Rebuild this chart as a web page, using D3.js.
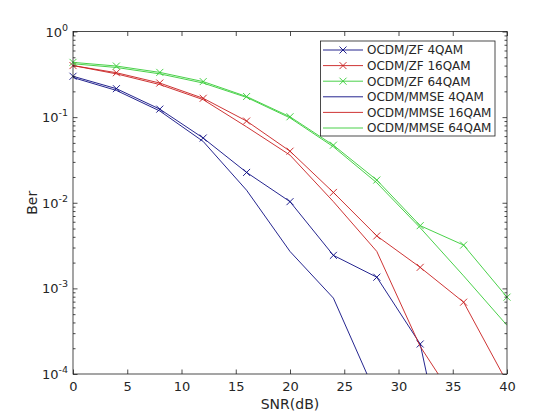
<!DOCTYPE html>
<html>
<head>
<meta charset="utf-8">
<style>
  body { margin: 0; background: #fff; }
  svg { display: block; font-family: "DejaVu Sans", sans-serif; }
</style>
</head>
<body>
<div class="chart"></div>
<script src="https://d3js.org/d3.v7.min.js"></script>
<script>
  // data
  const snr = [0, 4, 8, 12, 16, 20, 24, 28, 32, 36, 40];
  const zf4 = [0.30, 0.215, 0.124, 0.057, 0.0226, 0.0103, 0.00243, 0.00135, 0.000224, 0.000001, null];
  const zf16 = [0.40, 0.33, 0.25, 0.166, 0.09, 0.04, 0.0132, 0.0041, 0.00176, 0.00069, 0.00008];
  const zf64 = [0.436, 0.395, 0.333, 0.26, 0.174, 0.101, 0.047, 0.0184, 0.0054, 0.0032, 0.00079];
  const mmse4 = [0.29, 0.205, 0.118, 0.052, 0.014, 0.0027, 0.00077, 0.000055, null, null, null];
  const mmse16 = [0.40, 0.32, 0.24, 0.16, 0.077, 0.036, 0.0103, 0.0027, 0.00021, 0.000035, null];
  const mmse64 = [0.42, 0.38, 0.32, 0.25, 0.17, 0.098, 0.045, 0.0171, 0.0051, 0.0014, 0.00037];
  const seriesNames = ['OCDM/ZF 4QAM', 'OCDM/ZF 16QAM', 'OCDM/ZF 64QAM', 'OCDM/MMSE 4QAM', 'OCDM/MMSE 16QAM', 'OCDM/MMSE 64QAM'];
  const xTicks = [0, 5, 10, 15, 20, 25, 30, 35, 40];
  const yExps = [0, -1, -2, -3, -4];

  const width = 560, height = 420;
  const mLeft = 73, mRight = 507, mTop = 31.5, mBottom = 374;
  const blue = '#0c0c82', red = '#c81e1e', green = '#35cc35';

  const series = [
    {name: seriesNames[0], vals: zf4, color: blue, marker: true},
    {name: seriesNames[1], vals: zf16, color: red, marker: true},
    {name: seriesNames[2], vals: zf64, color: green, marker: true},
    {name: seriesNames[3], vals: mmse4, color: blue, marker: false},
    {name: seriesNames[4], vals: mmse16, color: red, marker: false},
    {name: seriesNames[5], vals: mmse64, color: green, marker: false}
  ];

  const svg = d3.select('.chart').append('svg')
                .attr('width', width)
                .attr('height', height);

  const x = d3.scaleLinear().domain([0, 40]).range([mLeft, mRight]);
  const y = d3.scaleLog().domain([1e-4, 1]).range([mBottom, mTop]);

  svg.append('clipPath').attr('id', 'plot')
     .append('rect')
     .attr('x', mLeft).attr('y', mTop)
     .attr('width', mRight - mLeft).attr('height', mBottom - mTop);

  // 線
  const line = d3.line()
                 .defined(d => d[1] != null)
                 .x(d => x(d[0]))
                 .y(d => y(d[1]));

  series.forEach(s => {
    const pts = snr.map((v, i) => [v, s.vals[i]]);
    svg.append('path')
       .attr('d', line(pts))
       .attr('fill', 'none')
       .attr('stroke', s.color)
       .attr('stroke-width', 0.9)
       .attr('clip-path', 'url(#plot)');
    if (s.marker) {
      svg.append('g').selectAll('path')
         .data(pts.filter(d => d[1] != null && d[1] >= 1e-4))
         .join('path')
         .attr('d', d => {
           const cx = x(d[0]), cy = y(d[1]), r = 3.5;
           return `M${cx - r},${cy - r}L${cx + r},${cy + r}M${cx - r},${cy + r}L${cx + r},${cy - r}`;
         })
         .attr('stroke', s.color)
         .attr('stroke-width', 0.9)
         .attr('fill', 'none');
    }
  });

  // 軸
  const axisColor = '#1e1e1e';
  const axes = svg.append('g').attr('stroke', axisColor).attr('stroke-width', 0.8).attr('fill', 'none');
  axes.append('rect')
      .attr('x', mLeft).attr('y', mTop)
      .attr('width', mRight - mLeft).attr('height', mBottom - mTop);

  const xAxisBottom = d3.axisBottom(x).tickValues(xTicks).tickSize(-4.5).tickPadding(8);
  const xAxisTop = d3.axisTop(x).tickValues(xTicks).tickSize(-4.5).tickFormat('');
  const minorTicks = [];
  for (let e = -4; e < 0; e++) for (let k = 2; k <= 9; k++) minorTicks.push(k * Math.pow(10, e));
  const majorY = yExps.map(e => Math.pow(10, e));

  const gx = svg.append('g').attr('transform', `translate(0,${mBottom})`).call(xAxisBottom);
  const gxt = svg.append('g').attr('transform', `translate(0,${mTop})`).call(xAxisTop);
  const gyl = svg.append('g').attr('transform', `translate(${mLeft},0)`)
                 .call(d3.axisLeft(y).tickValues(majorY).tickSize(-4.5).tickFormat(''));
  const gyr = svg.append('g').attr('transform', `translate(${mRight},0)`)
                 .call(d3.axisRight(y).tickValues(majorY).tickSize(-4.5).tickFormat(''));
  const gyl2 = svg.append('g').attr('transform', `translate(${mLeft},0)`)
                  .call(d3.axisLeft(y).tickValues(minorTicks).tickSize(-2.5).tickFormat(''));
  const gyr2 = svg.append('g').attr('transform', `translate(${mRight},0)`)
                  .call(d3.axisRight(y).tickValues(minorTicks).tickSize(-2.5).tickFormat(''));
  [gx, gxt, gyl, gyr, gyl2, gyr2].forEach(g => {
    g.select('.domain').remove();
    g.selectAll('line').attr('stroke', axisColor).attr('stroke-width', 0.8);
  });
  gx.selectAll('text').attr('fill', '#262626').attr('font-size', 13).attr('font-family', 'DejaVu Sans');

  // y 刻度標籤 10^n
  yExps.forEach(e => {
    const t = svg.append('text')
                 .attr('x', mLeft - 5)
                 .attr('y', y(Math.pow(10, e)) + 5)
                 .attr('text-anchor', 'end')
                 .attr('fill', '#262626')
                 .attr('font-size', 13);
    t.append('tspan').text('10');
    t.append('tspan').attr('dy', -6).attr('font-size', 9.5).text(e);
  });

  svg.append('text')
     .attr('x', (mLeft + mRight) / 2).attr('y', 409)
     .attr('text-anchor', 'middle')
     .attr('fill', '#262626').attr('font-size', 14)
     .text('SNR(dB)');
  svg.append('text')
     .attr('transform', `translate(37,${(mTop + mBottom) / 2}) rotate(-90)`)
     .attr('text-anchor', 'middle')
     .attr('fill', '#262626').attr('font-size', 14)
     .text('Ber');

  // 圖例
  const lg = svg.append('g');
  lg.append('rect')
    .attr('x', 320.5).attr('y', 41)
    .attr('width', 174.5).attr('height', 95)
    .attr('fill', '#fff').attr('stroke', axisColor).attr('stroke-width', 0.8);
  series.forEach((s, i) => {
    const cy = 50 + i * 15.6;
    lg.append('line')
      .attr('x1', 323).attr('x2', 363).attr('y1', cy).attr('y2', cy)
      .attr('stroke', s.color).attr('stroke-width', 0.9);
    if (s.marker) {
      const r = 3.5, cx = 343;
      lg.append('path')
        .attr('d', `M${cx - r},${cy - r}L${cx + r},${cy + r}M${cx - r},${cy + r}L${cx + r},${cy - r}`)
        .attr('stroke', s.color).attr('stroke-width', 0.9);
    }
    lg.append('text')
      .attr('x', 367).attr('y', cy + 4.3)
      .attr('fill', '#262626').attr('font-size', 12)
      .text(s.name);
  });
</script>
</body>
</html>
